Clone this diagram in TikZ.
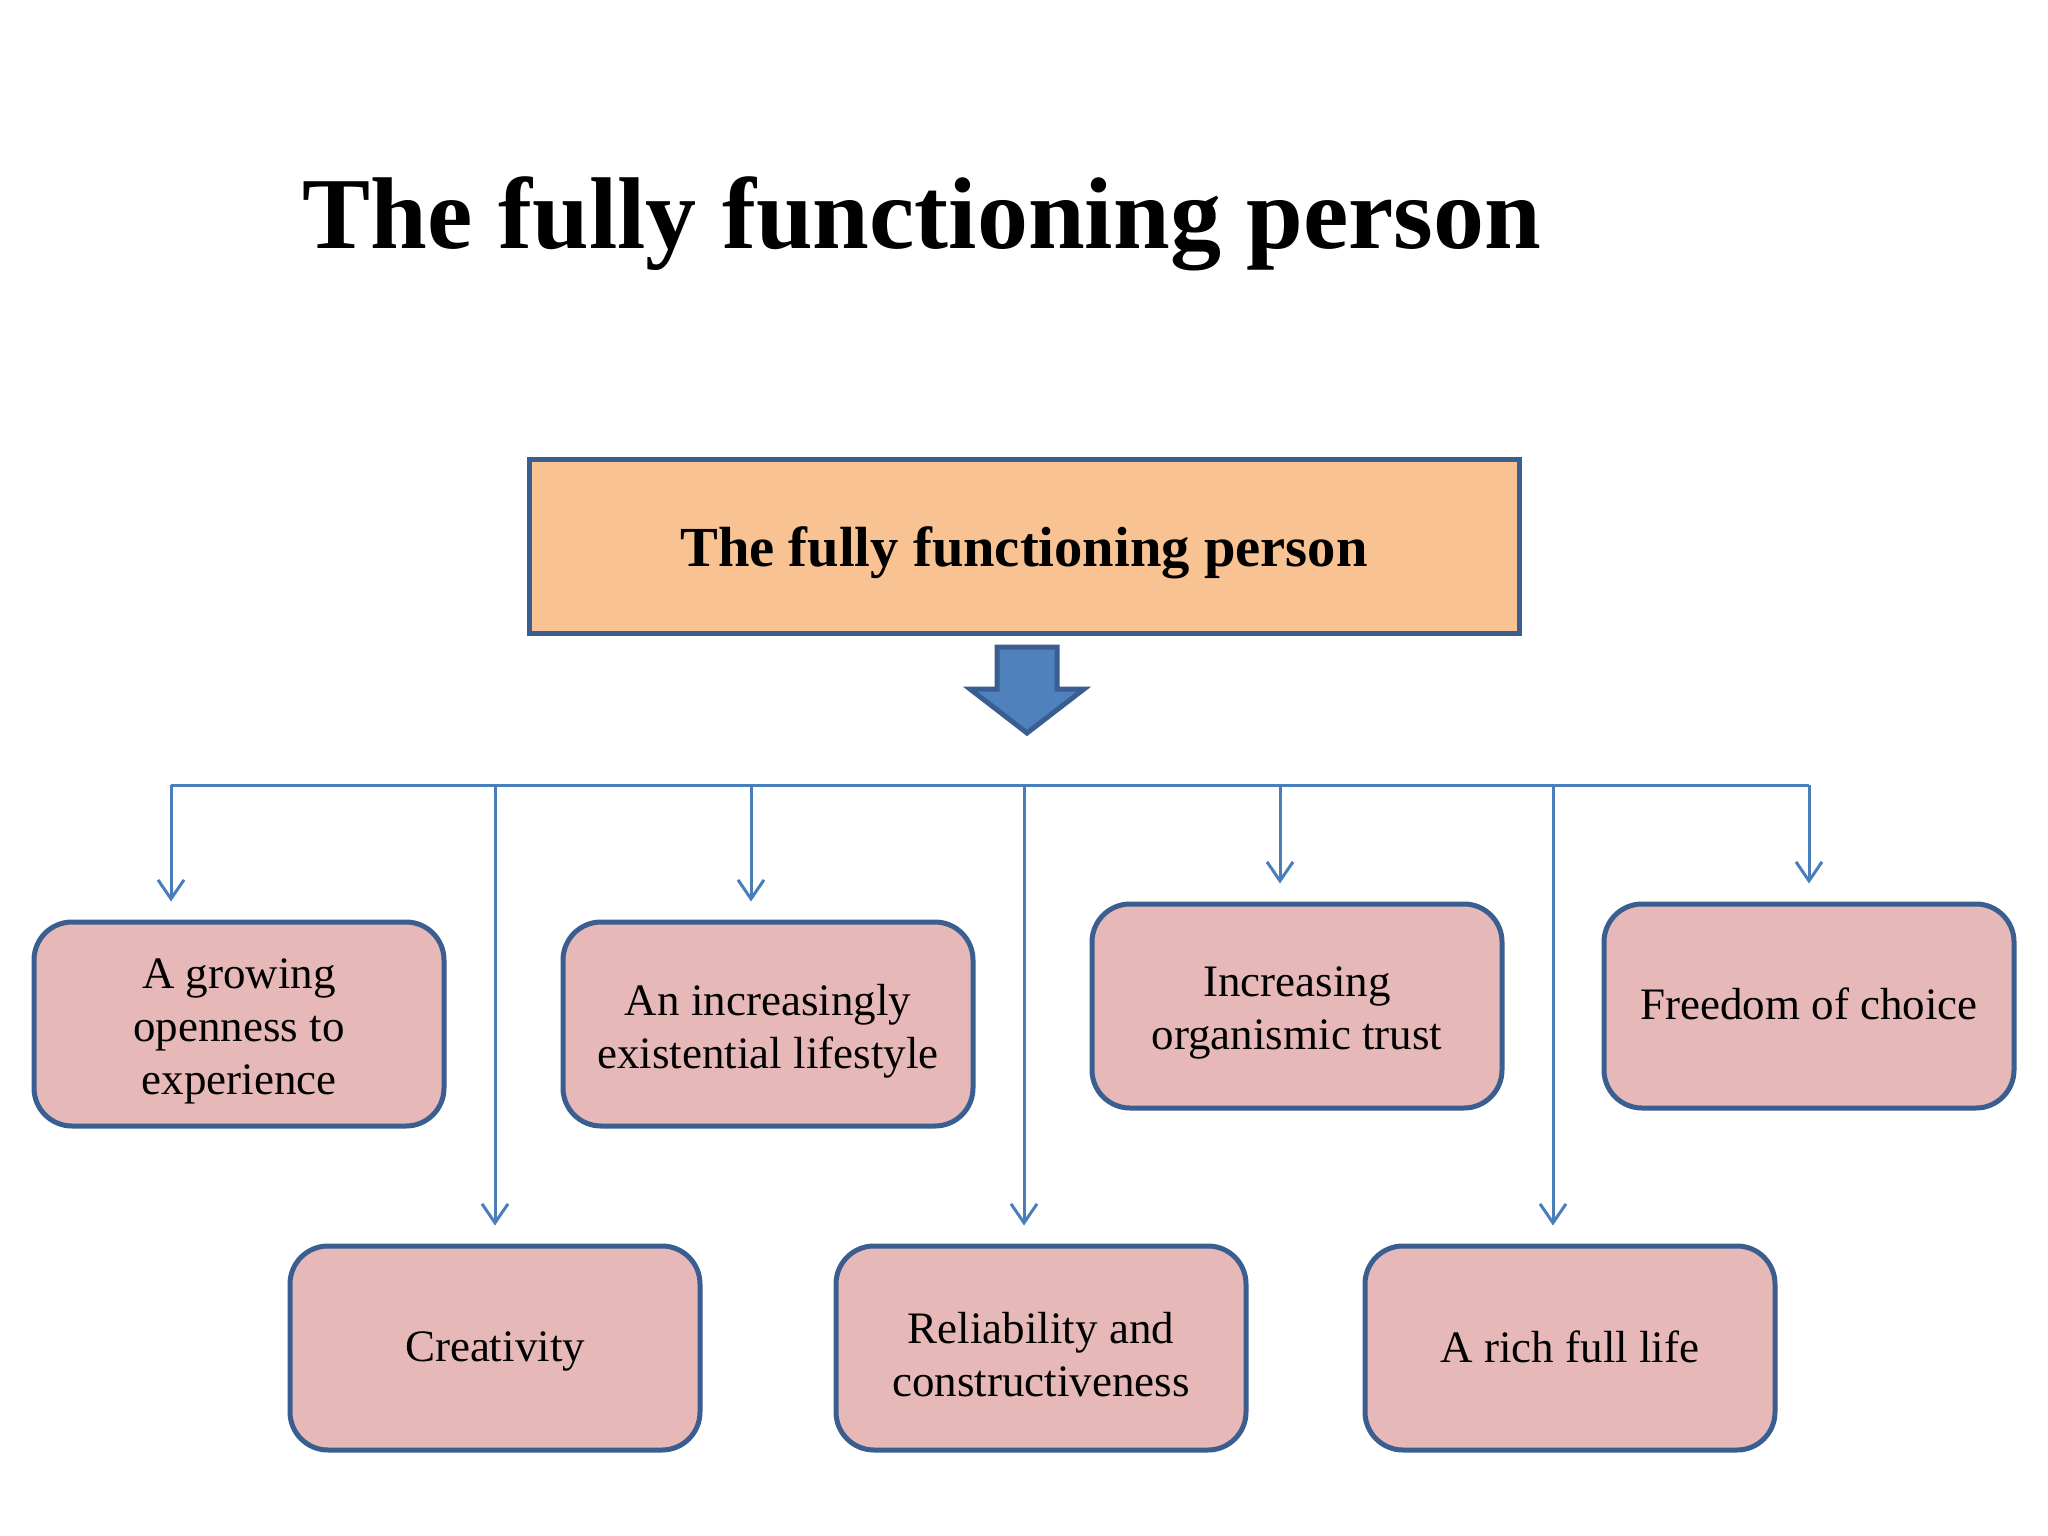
\documentclass[tikz,border=0pt]{standalone}
\usepackage{fontspec}
\setmainfont{Liberation Serif}
\usetikzlibrary{arrows.meta}
\definecolor{bordblue}{HTML}{3A5E8F}
\definecolor{connblue}{HTML}{4A7EBB}
\definecolor{arrowblue}{HTML}{4F81BD}
\definecolor{boxpink}{HTML}{E6B9B8}
\definecolor{boxorange}{HTML}{F9C293}
\tikzset{
  item/.style={draw=bordblue, line width=5pt, fill=boxpink, rounded corners=38pt,
    minimum width=410pt, minimum height=204pt, inner sep=0pt},
  itemtext/.style={align=center, inner sep=0pt, yshift=-7pt,
    font=\fontsize{45}{53}\selectfont},
  itemline/.style={itemtext, yshift=4pt},
  topbox/.style={draw=bordblue, line width=5pt, fill=boxorange,
    minimum width=990pt, minimum height=174pt, inner sep=0pt},
  toptext/.style={inner sep=0pt, yshift=-7pt, font=\fontsize{56.6}{66}\selectfont\bfseries},
  conn/.style={draw=connblue, line width=3pt},
  connarr/.style={conn, -{Straight Barb[length=19pt,width=26pt,line width=3pt]}, shorten >=18pt},
}
\begin{document}
\begin{tikzpicture}[x=1pt,y=-1pt]
\useasboundingbox (0,0) rectangle (2048,1536);
\fill[white] (0,0) rectangle (2048,1536);
% title
\node[anchor=base, font=\fontsize{102}{120}\selectfont\bfseries, inner sep=0pt] (title) at (922,248) {The fully functioning person};
% top box
\node[topbox, label={[toptext]center:The fully functioning person}] (top) at (1024,546) {};
% block arrow
\draw[draw=bordblue, fill=arrowblue, line width=5pt, line join=miter]
  (997,647) -- (1057,647) -- (1057,689) -- (1084,689) -- (1027,733) -- (970,689) -- (997,689) -- cycle;
% boxes
\node[item, label={[itemtext]center:{A growing\\openness to\\experience}}] (b1) at (239,1024) {};
\node[item, label={[itemtext]center:{An increasingly\\existential lifestyle}}] (b2) at (768,1024) {};
\node[item, label={[itemtext]center:{Increasing\\organismic trust}}] (b3) at (1297,1006) {};
\node[item, label={[itemline]center:{Freedom of choice\vphantom{y}}}] (b4) at (1809,1006) {};
\node[item, label={[itemline]center:{Creativity}}] (b5) at (495,1348) {};
\node[item, label={[itemtext]center:{Reliability and\\constructiveness}}] (b6) at (1041,1348) {};
\node[item, label={[itemline]center:{A rich full life\vphantom{y}}}] (b7) at (1570,1348) {};
% bus
\coordinate (p1) at (171,785);
\coordinate (p2) at (495,785);
\coordinate (p3) at (751,785);
\coordinate (p4) at (1024,785);
\coordinate (p5) at (1280,785);
\coordinate (p6) at (1553,785);
\coordinate (p7) at (1809,785);
\draw[conn] (p1) -- (p7);
\draw[connarr] (p1) -- (p1 |- b1.north);
\draw[connarr] (p2) -- (p2 |- b5.north);
\draw[connarr] (p3) -- (p3 |- b2.north);
\draw[connarr] (p4) -- (p4 |- b6.north);
\draw[connarr] (p5) -- (p5 |- b3.north);
\draw[connarr] (p6) -- (p6 |- b7.north);
\draw[connarr] (p7) -- (p7 |- b4.north);
\end{tikzpicture}
\end{document}
